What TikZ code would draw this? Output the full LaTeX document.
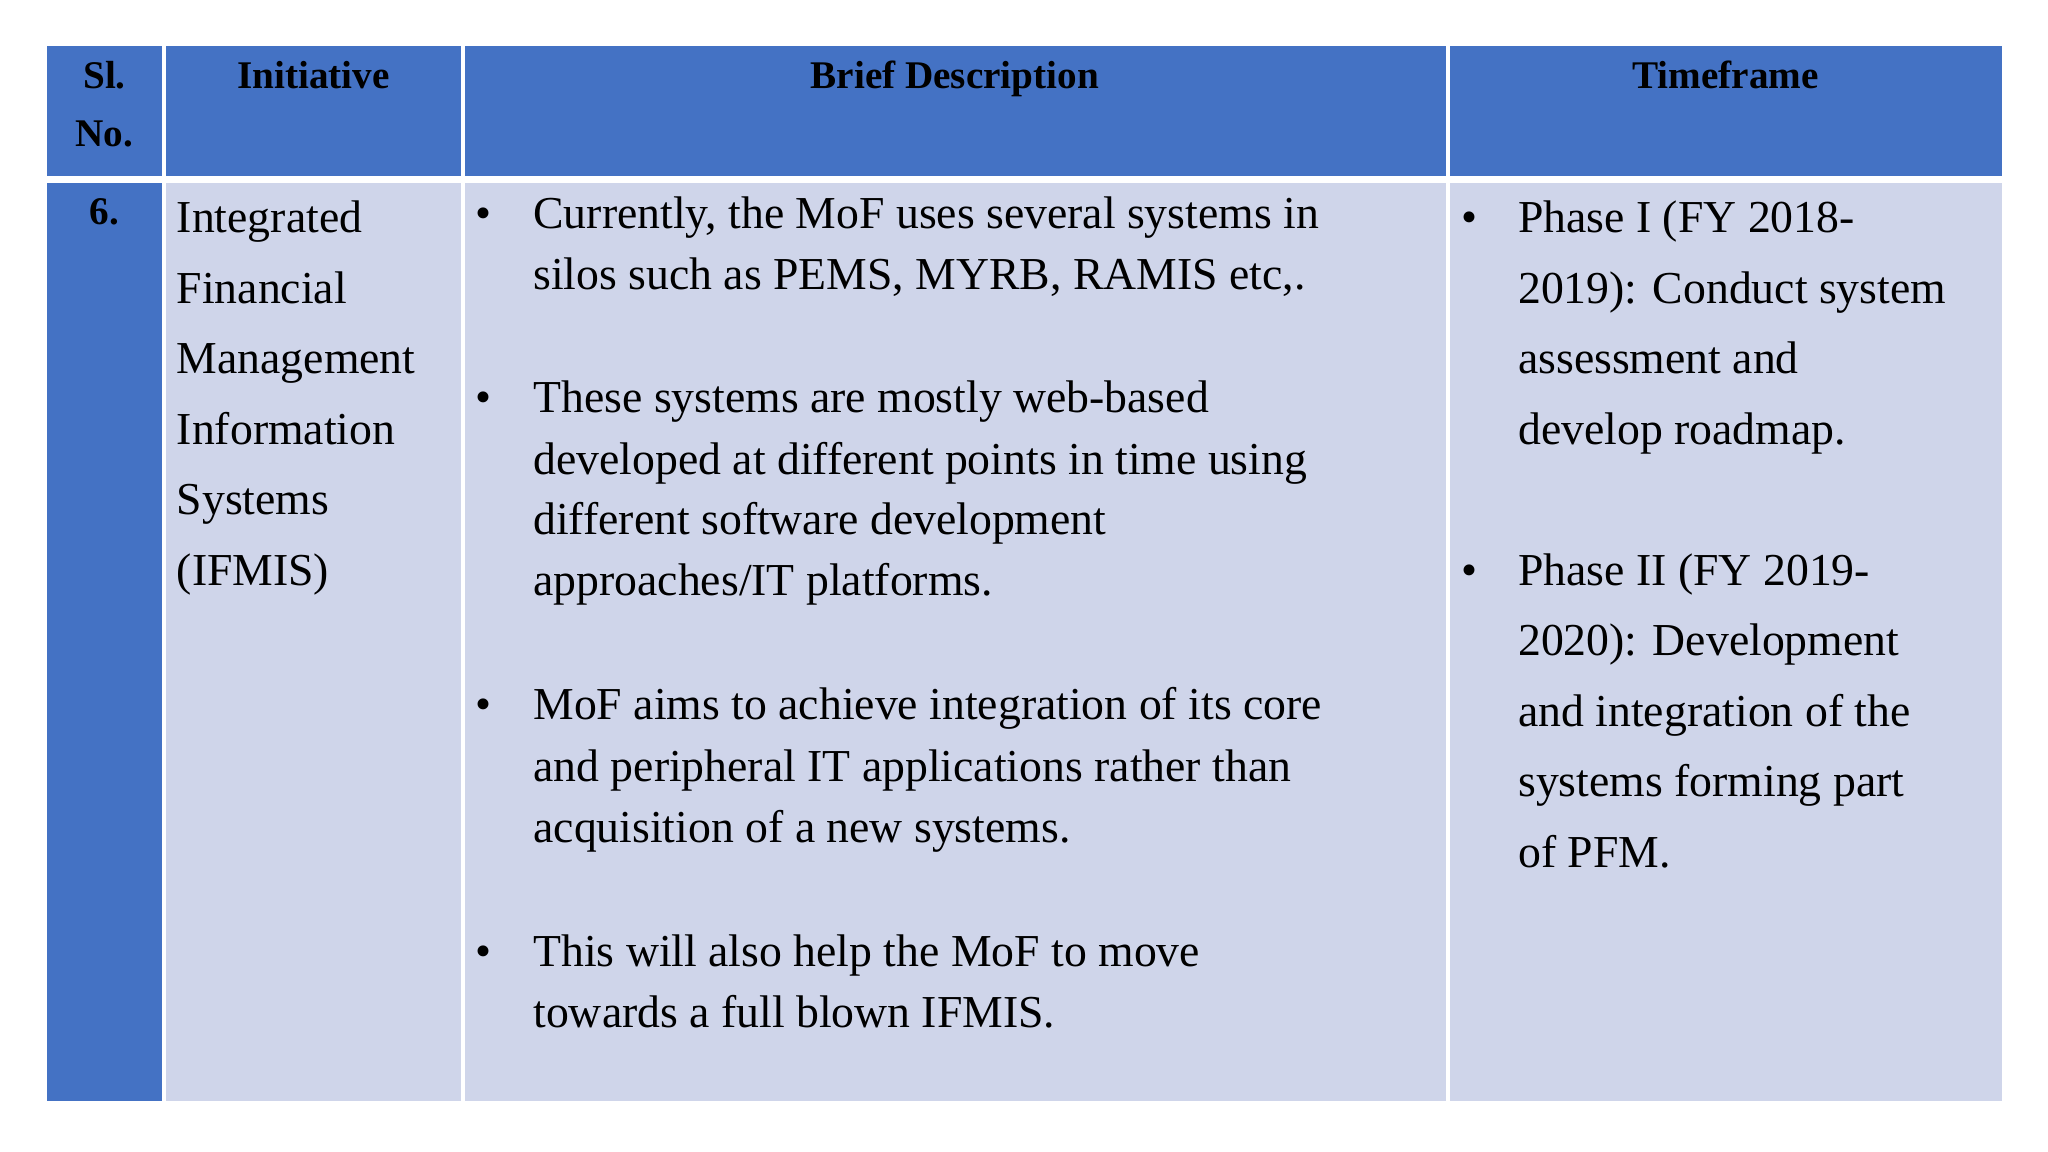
\documentclass[tikz,border=0pt]{standalone}
\usepackage{fontspec}
\setmainfont{Liberation Serif}
\begin{document}
\begin{tikzpicture}[x=0.5pt,y=-0.5pt,
  hd/.style={font=\fontsize{15}{15}\selectfont\bfseries,anchor=base},
  tx/.style={font=\fontsize{17.5}{17.5}\selectfont,anchor=base west,inner sep=0},
  bl/.style={font=\fontsize{17.5}{17.5}\selectfont,anchor=base,inner sep=0}]
\definecolor{hblue}{HTML}{4472C4}
\definecolor{lblue}{HTML}{CFD5EA}
\useasboundingbox[fill=white] (0,0) rectangle (1568,882);
\fill[hblue] (36,35) rectangle (1533,135);
\fill[hblue] (36,140) rectangle (125,843);
\fill[lblue] (126,140) rectangle (1533,843);
\draw[white,line width=1.5pt] (125.5,35)--(125.5,843) (354.5,35)--(354.5,843) (1108.5,35)--(1108.5,843) (36,137.5)--(1533,137.5);
\node[hd] (h1) at (80,68) {Sl.};
\node[hd] (h1b) at (80,112) {No.};
\node[hd] (h2) at (240,68) {Initiative};
\node[hd] (h3) at (731,68) {Brief Description};
\node[hd] (h4) at (1321,68) {Timeframe};
\node[hd] (n6) at (80,172) {6.};
\foreach \t [count=\i] in {Integrated,Financial,Management,Information,Systems,(IFMIS)}
  \node[tx] (i\i) at (135,{178+54*(\i-1)}) {\t};
\foreach \y/\t [count=\i] in {175/{Currently, the MoF uses several systems in},222/{silos such as PEMS, MYRB, RAMIS etc,.},316/{These systems are mostly web-based},363/{developed at different points in time using},409/{different software development},456/{approaches/IT platforms.},551/{MoF aims to achieve integration of its core},598/{and peripheral IT applications rather than},645/{acquisition of a new systems.},740/{This will also help the MoF to move},787/{towards a full blown IFMIS.}}
  \node[tx] (d\i) at (408,\y) {\t};
\foreach \y [count=\i] in {175,316,551,740}
  \node[bl] (db\i) at (370,\y) {•};
\foreach \y/\t [count=\i] in {178/{Phase I (FY 2018-},232/{2019): Conduct system},286/{assessment and},340/{develop roadmap.},448/{Phase II (FY 2019-},502/{2020): Development},556/{and integration of the},610/{systems forming part},664/{of PFM.}}
  \node[tx] (t\i) at (1162,\y) {\t};
\foreach \y [count=\i] in {178,448}
  \node[bl] (tb\i) at (1125,\y) {•};
\end{tikzpicture}
\end{document}
